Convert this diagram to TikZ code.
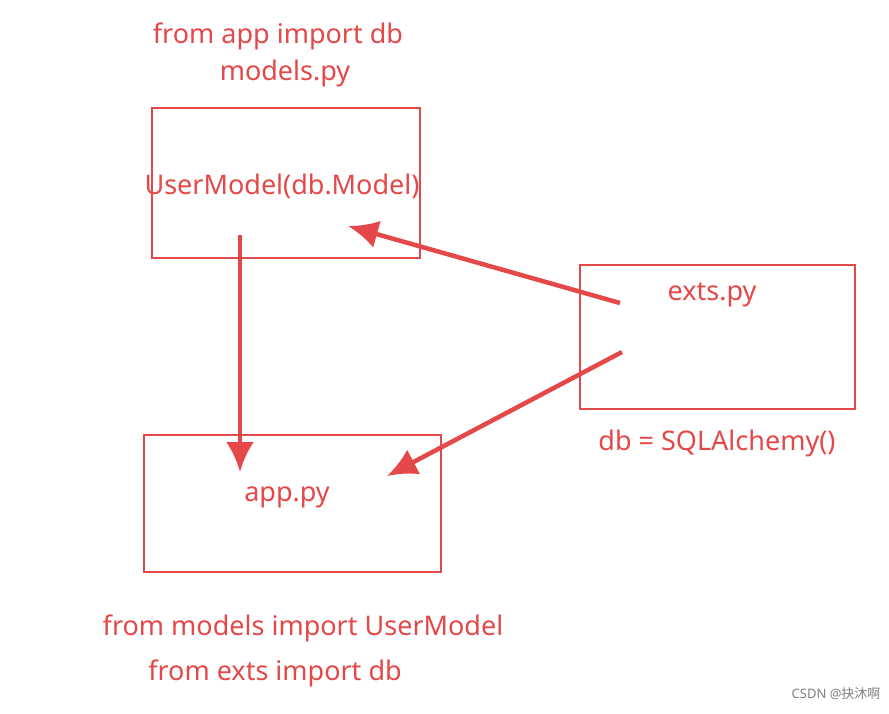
\documentclass[tikz,border=0pt]{standalone}
\usepackage{fontspec}
\setmainfont{Noto Sans}
\newfontfamily\cjk{Noto Sans CJK SC}
\usetikzlibrary{arrows.meta}
\definecolor{rd}{RGB}{228,72,72}
\begin{document}
\begin{tikzpicture}[x=1pt,y=-1pt,
  box/.style={draw=rd,line width=2pt},
  lbl/.style={text=rd,font=\fontsize{27}{32}\selectfont,inner sep=0pt},
  arr/.style={draw=rd,line width=4.5pt,-{Latex[length=30pt,width=28pt]}}]
\fill[white] (0,0) rectangle (889,713);
\useasboundingbox (0,0) rectangle (889,713);
\draw[box] (152,108) rectangle (420,258);
\draw[box] (144,435) rectangle (441,572);
\draw[box] (580,265) rectangle (855,409);
\node[lbl] (t1) at (278,36) {from app import db};
\node[lbl] (t2) at (285,73) {models.py};
\node[lbl] (um) at (282,186) {UserModel(db.Model)};
\node[lbl] (ex) at (712,295) {exts.py};
\node[lbl] (sq) at (717,443) {db = SQLAlchemy()};
\node[lbl] (ap) at (287,497) {app.py};
\node[lbl] (t3) at (303,628) {from models import UserModel};
\node[lbl] (t4) at (275,673) {from exts import db};
\coordinate (a1s) at (620,303);
\coordinate (a1e) at (348,226);
\coordinate (a2s) at (240,235);
\coordinate (a2e) at (240,472);
\coordinate (a3s) at (622,352);
\coordinate (a3e) at (387,476);
\draw[arr] (a1s) -- (a1e);
\draw[arr] (a2s) -- (a2e);
\draw[arr] (a3s) -- (a3e);
\node[text=gray,font=\fontsize{13}{15}\selectfont,anchor=east] (wm) at (884,694) {CSDN @{\cjk 抉沐啊}};
\end{tikzpicture}
\end{document}
